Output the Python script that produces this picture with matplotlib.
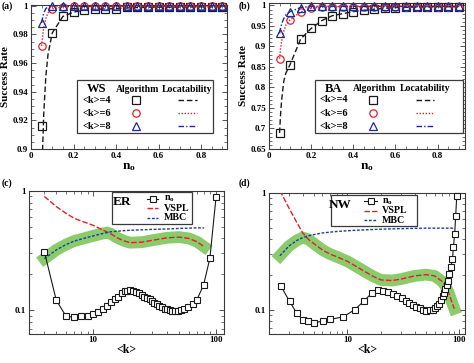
import numpy as np
import matplotlib
matplotlib.use('Agg')
import matplotlib.pyplot as plt
from matplotlib.lines import Line2D
from matplotlib.patches import Rectangle
from matplotlib.ticker import MultipleLocator, FixedLocator, FuncFormatter, NullFormatter

plt.rcParams['font.family'] = ['Liberation Serif', 'DejaVu Serif']
plt.rcParams['font.weight'] = 'bold'
plt.rcParams['mathtext.fontset'] = 'custom'
plt.rcParams['mathtext.bf'] = 'Liberation Serif:bold'
plt.rcParams['mathtext.rm'] = 'Liberation Serif:bold'
plt.rcParams['mathtext.it'] = 'Liberation Serif:bold'

# ---------------- data: panels (a) and (b) ----------------
n_o = [0.05, 0.10, 0.15, 0.20, 0.25, 0.30, 0.35, 0.40, 0.45, 0.50,
       0.55, 0.60, 0.65, 0.70, 0.75, 0.80, 0.85, 0.90]

ws_alg_k4 = [0.916, 0.981, 0.9925, 0.9955, 0.997, 0.9975, 0.9978, 0.998, 0.9988, 0.9988,
             0.9988, 0.999, 0.999, 0.999, 0.9992, 0.9992, 0.9992, 0.9992]
ws_alg_k6 = [0.972, 0.9977, 0.9993, 0.9995, 0.9995, 0.9995, 0.9995, 0.9995, 0.9996, 0.9996,
             0.9996, 0.9996, 0.9996, 0.9996, 0.9996, 0.9996, 0.9996, 0.9996]
ws_alg_k8 = [0.988, 1.0, 0.9998, 0.9998, 0.9998, 0.9998, 0.9998, 0.9998, 0.9998, 0.9998,
             0.9998, 0.9998, 0.9998, 0.9998, 0.9998, 0.9998, 0.9998, 0.9998]

loc_x = [0.05, 0.055, 0.06, 0.07, 0.08, 0.10, 0.15, 0.20, 0.25, 0.30, 0.40, 0.50, 0.60, 0.70, 0.80, 0.90]
ws_loc_k4 = [0.87, 0.902, 0.925, 0.951, 0.966, 0.981, 0.9925, 0.9955, 0.997, 0.9975, 0.998, 0.9988,
             0.999, 0.999, 0.9992, 0.9992]
ws_loc_k6 = [0.972, 0.979, 0.985, 0.991, 0.995, 0.9977, 0.9993, 0.9995, 0.9995, 0.9995, 0.9995,
             0.9996, 0.9996, 0.9996, 0.9996, 0.9996]
ws_loc_k8 = [0.988, 0.992, 0.995, 0.998, 0.9992, 1.0, 0.9998, 0.9998, 0.9998, 0.9998, 0.9998,
             0.9998, 0.9998, 0.9998, 0.9998, 0.9998]

ba_alg_k4 = [0.689, 0.856, 0.918, 0.944, 0.963, 0.975, 0.980, 0.985, 0.988, 0.991,
             0.993, 0.995, 0.996, 0.996, 0.997, 0.997, 0.997, 0.997]
ba_alg_k6 = [0.870, 0.965, 0.984, 0.993, 0.996, 0.997, 0.997, 0.997, 0.997, 0.997,
             0.997, 0.997, 0.997, 0.997, 0.997, 0.997, 0.997, 0.997]
ba_alg_k8 = [0.932, 0.985, 0.995, 0.9975, 0.998, 0.998, 0.998, 0.998, 0.998, 0.998,
             0.998, 0.998, 0.998, 0.998, 0.998, 0.998, 0.998, 0.998]

ba_loc_k4 = [0.689, 0.735, 0.77, 0.815, 0.835, 0.856, 0.918, 0.944, 0.963, 0.975, 0.985, 0.991,
             0.995, 0.996, 0.997, 0.997]
ba_loc_k6 = [0.870, 0.895, 0.913, 0.937, 0.952, 0.965, 0.984, 0.993, 0.996, 0.997, 0.997,
             0.997, 0.997, 0.997, 0.997, 0.997]
ba_loc_k8 = [0.932, 0.945, 0.955, 0.968, 0.977, 0.985, 0.995, 0.9975, 0.998, 0.998, 0.998,
             0.998, 0.998, 0.998, 0.998, 0.998]

k_labels = ['<k>=4', '<k>=6', '<k>=8']

# ---------------- data: panel (c) ER ----------------
er_k = [4, 5, 6, 7, 8, 9, 10, 11, 12, 13,
        14, 15, 16, 17, 18, 19, 20, 21, 22.5, 23.5,
        25, 26, 27.5, 29, 30, 31.5, 33, 34.5, 36.5, 38.5,
        40, 42, 44, 46.5, 49, 52, 55, 59.5, 64.5, 69.5,
        79, 89, 100]
er_no = [0.31, 0.121, 0.089, 0.087, 0.0885, 0.0895, 0.0925, 0.097, 0.1025, 0.109,
         0.116, 0.123, 0.130, 0.138, 0.144, 0.146, 0.147, 0.145, 0.1425, 0.139,
         0.134, 0.130, 0.127, 0.123, 0.119, 0.115, 0.112, 0.109, 0.106, 0.103,
         0.102, 0.100, 0.099, 0.099, 0.099, 0.100, 0.103, 0.106, 0.112, 0.121,
         0.162, 0.272, 0.895]
er_curve_k = [4, 5, 6, 7, 8, 10, 12, 13, 14, 16, 18, 20, 25, 30, 40, 50, 60, 70, 80]
er_vspl = [0.90, 0.74, 0.65, 0.59, 0.56, 0.515, 0.47, 0.452, 0.435, 0.40, 0.38, 0.368,
           0.372, 0.385, 0.405, 0.41, 0.40, 0.375, 0.34]
er_mbc = [0.27, 0.32, 0.355, 0.38, 0.395, 0.42, 0.44, 0.448, 0.455, 0.46, 0.465, 0.468,
          0.472, 0.476, 0.48, 0.485, 0.488, 0.49, 0.49]

# ---------------- data: panel (d) NW ----------------
nw_k = [2.54, 3.05, 3.52, 4.02, 4.49, 5.05, 6.02, 7.0, 9.2, 11.6,
        14.1, 16.5, 18.6, 21.0, 23.2, 25.6, 27.9, 30.5, 33.2, 35.8,
        38.6, 41.3, 44.2, 47.3, 50.7, 54.3, 57.5, 60.1, 63.2, 65.8,
        68.6, 70.9, 72.9, 74.9, 76.9, 79, 81.3, 83.5, 86.6, 88.2,
        90.6, 92.5, 94.5]
nw_no = [0.161, 0.118, 0.094, 0.0816, 0.0794, 0.0774, 0.080, 0.0826, 0.087, 0.100,
         0.119, 0.139, 0.148, 0.146, 0.142, 0.136, 0.131, 0.125, 0.119, 0.114,
         0.1097, 0.1054, 0.1026, 0.099, 0.098, 0.0986, 0.100, 0.104, 0.108, 0.113,
         0.121, 0.130, 0.139, 0.150, 0.164, 0.178, 0.202, 0.232, 0.272, 0.342,
         0.448, 0.64, 0.935]
nw_curve_k = [2.5, 3, 3.5, 4, 4.5, 5, 6, 7, 8, 10, 12, 14, 17, 20, 25, 30, 40, 50, 60, 70, 75, 80, 85, 90]
nw_vspl = [1.05, 0.75, 0.57, 0.455, 0.40, 0.37, 0.325, 0.30, 0.285, 0.26, 0.235, 0.215, 0.193,
           0.18, 0.178, 0.183, 0.195, 0.20, 0.195, 0.175, 0.16, 0.14, 0.118, 0.102]
nw_mbc = [0.29, 0.35, 0.39, 0.415, 0.43, 0.44, 0.455, 0.462, 0.468, 0.475, 0.48, 0.483, 0.487,
          0.49, 0.493, 0.495, 0.498, 0.5, 0.5, 0.5, 0.5, 0.5, 0.5, 0.5]

# ---------------- style ----------------
BLACK = '#1a1a1a'
RED = '#e0202a'
NAVY = '#1f2a8c'
BLUE = '#1d3c9c'
GREEN = '#8acb6c'
FRAME = '#3a3a3a'
TICK_FS = 6.5

fig = plt.figure(figsize=(4.74, 3.63), dpi=100)
W, H = 474.0, 363.0


def add_ax(x0, y0, x1, y1):
    return fig.add_axes([x0 / W, 1 - y1 / H, (x1 - x0) / W, (y1 - y0) / H])


def style_ax(ax):
    for s in ax.spines.values():
        s.set_color(FRAME)
        s.set_linewidth(0.8)
    ax.tick_params(which='both', direction='in', top=True, right=True,
                   colors=FRAME, labelcolor='black', labelsize=TICK_FS, pad=2)
    ax.tick_params(which='major', length=3.5, width=0.6)
    ax.tick_params(which='minor', length=2, width=0.5)
    for lab in ax.get_xticklabels() + ax.get_yticklabels():
        lab.set_fontweight('bold')


gfmt = FuncFormatter(lambda v, p: ('%g' % round(v, 4)))

axA = add_ax(31, 5, 227, 149)
axB = add_ax(269, 3, 465, 149)
axC = add_ax(29, 191, 224, 334)
axD = add_ax(269, 193, 465, 334)

styles = [
    dict(color=BLACK, ls=(0, (4, 2)), marker='s'),
    dict(color=RED, ls=(0, (1, 1.2)), marker='o'),
    dict(color=NAVY, ls=(0, (4, 1.5, 1, 1.5)), marker='^'),
]


def success_panel(ax, algs, locs, title, ylim, ymaj, ymin, table_box, xmax):
    for alg, loc, st in zip(algs, locs, styles):
        ax.plot(loc_x, loc, color=st['color'], ls=st['ls'], lw=1.0, zorder=2)
    for alg, loc, st in zip(algs, locs, styles):
        ax.plot(n_o, alg, ls='none', marker=st['marker'], ms=5.3, mfc='none',
                mec=st['color'], mew=0.9, zorder=3, clip_on=False)
    ax.set_xlim(0, xmax)
    ax.set_ylim(*ylim)
    ax.xaxis.set_major_locator(MultipleLocator(0.2))
    ax.xaxis.set_minor_locator(MultipleLocator(0.05))
    ax.yaxis.set_major_locator(MultipleLocator(ymaj))
    ax.yaxis.set_minor_locator(MultipleLocator(ymin))
    ax.xaxis.set_major_formatter(gfmt)
    ax.yaxis.set_major_formatter(gfmt)
    ax.set_xlabel(r'$\mathbf{n_o}$', fontsize=9.5, labelpad=1)
    ax.set_ylabel('Success Rate', fontsize=8, fontweight='bold', labelpad=2)
    style_ax(ax)
    # table-like legend
    x0, x1, y0, y1, cx_lab, cx_alg, cx_loc, lx0, lx1 = table_box
    ax.add_patch(Rectangle((x0, y0), x1 - x0, y1 - y0, transform=ax.transAxes,
                           fill=True, fc='white', ec=FRAME, lw=0.9, zorder=5))
    ty = y1 - 0.065
    ax.text(cx_lab, ty, title, transform=ax.transAxes, ha='center', va='center',
            fontsize=9, fontweight='bold', zorder=6)
    ax.text(cx_alg, ty, 'Algorithm', transform=ax.transAxes, ha='center', va='center',
            fontsize=7, fontweight='bold', zorder=6)
    ax.text(cx_loc, ty, 'Locatability', transform=ax.transAxes, ha='center', va='center',
            fontsize=7, fontweight='bold', zorder=6)
    rows = [y1 - 0.14, y1 - 0.232, y1 - 0.32]
    for ry, lab, st in zip(rows, k_labels, styles):
        ax.text(cx_lab, ry, lab, transform=ax.transAxes, ha='center', va='center',
                fontsize=7.5, fontweight='bold', zorder=6)
        ax.add_line(Line2D([cx_alg - 0.01], [ry], transform=ax.transAxes, ls='none',
                           marker=st['marker'], ms=5.3, mfc='none', mec=st['color'],
                           mew=0.9, zorder=6))
        ax.add_line(Line2D([lx0, lx1], [ry, ry], transform=ax.transAxes, color=st['color'],
                           ls=st['ls'], lw=1.0, zorder=6))


success_panel(axA, [ws_alg_k4, ws_alg_k6, ws_alg_k8], [ws_loc_k4, ws_loc_k6, ws_loc_k8],
              'WS', (0.9, 1.0005), 0.02, 0.005,
              (0.233, 0.929, 0.113, 0.479, 0.335, 0.546, 0.798, 0.752, 0.845), 0.922)
success_panel(axB, [ba_alg_k4, ba_alg_k6, ba_alg_k8], [ba_loc_k4, ba_loc_k6, ba_loc_k8],
              'BA', (0.65, 1.006), 0.05, 0.01,
              (0.236, 0.99, 0.113, 0.476, 0.33, 0.54, 0.796, 0.749, 0.842), 0.93)


def log_panel(ax, k, no, ck, vspl, mbc, title, xlim, ylim, box):
    band = np.minimum(np.array(vspl), np.array(mbc))
    ax.plot(ck, band, color=GREEN, lw=8.5, solid_capstyle='projecting',
            solid_joinstyle='round', zorder=1)
    ax.plot(ck, vspl, color=RED, ls=(0, (4, 1.5)), lw=1.0, zorder=3)
    ax.plot(ck, mbc, color=BLUE, ls=(0, (2, 1.2)), lw=1.0, zorder=3)
    ax.plot(k, no, color=BLACK, lw=0.8, marker='s', ms=4.3, mfc='white', mec=BLACK,
            mew=0.8, zorder=4, clip_on=False)
    ax.set_xscale('log')
    ax.set_yscale('log')
    ax.set_xlim(*xlim)
    ax.set_ylim(*ylim)
    ax.xaxis.set_major_locator(FixedLocator([10, 100]))
    ax.xaxis.set_minor_locator(FixedLocator([2, 3, 4, 5, 6, 7, 8, 9, 20, 30, 40, 50, 60, 70, 80, 90]))
    ax.yaxis.set_major_locator(FixedLocator([0.1, 1]))
    ax.yaxis.set_minor_locator(FixedLocator([0.07, 0.08, 0.09, 0.2, 0.3, 0.4, 0.5, 0.6, 0.7, 0.8, 0.9]))
    ax.xaxis.set_major_formatter(gfmt)
    ax.yaxis.set_major_formatter(gfmt)
    ax.xaxis.set_minor_formatter(NullFormatter())
    ax.yaxis.set_minor_formatter(NullFormatter())
    ax.set_xlabel('<k>', fontsize=8.5, fontweight='bold', labelpad=0)
    style_ax(ax)
    ax.tick_params(axis='x', which='major', pad=1.5)
    x0, x1, y0, y1, tx, hx0, hx1, txt = box
    ax.add_patch(Rectangle((x0, y0), x1 - x0, y1 - y0, transform=ax.transAxes,
                           fill=True, fc='white', ec=FRAME, lw=0.9, zorder=5))
    ax.text(tx, y1 - 0.07, title, transform=ax.transAxes, ha='center', va='center',
            fontsize=9.5, fontweight='bold', zorder=6)
    hgt = y1 - y0
    rows = [y1 - 0.21 * hgt, y1 - 0.51 * hgt, y1 - 0.81 * hgt]
    entries = [(r'$\mathbf{n_o}$', dict(color=BLACK, ls='-', lw=0.8, marker='s', ms=4.3,
                                        mfc='white', mec=BLACK, mew=0.8, markevery=[1])),
               ('VSPL', dict(color=RED, ls=(0, (4, 1.5)), lw=1.0)),
               ('MBC', dict(color=BLUE, ls=(0, (2, 1.2)), lw=1.0))]
    for ry, (lab, st) in zip(rows, entries):
        ax.add_line(Line2D([hx0, (hx0 + hx1) / 2, hx1], [ry, ry, ry], transform=ax.transAxes,
                           zorder=6, **st))
        ax.text(txt, ry, lab, transform=ax.transAxes, ha='left', va='center',
                fontsize=7.2, fontweight='bold', zorder=6)


log_panel(axC, er_k, er_no, er_curve_k, er_vspl, er_mbc, 'ER', (3.0, 116), (0.063, 1.0),
          (0.427, 0.834, 0.770, 0.991, 0.475, 0.604, 0.663, 0.69))
log_panel(axD, nw_k, nw_no, nw_curve_k, nw_vspl, nw_mbc, 'NW', (2.0, 112), (0.062, 1.0),
          (0.318, 0.756, 0.765, 0.988, 0.364, 0.484, 0.552, 0.575))

for (px, py, lab) in [(2, 1, '(a)'), (239, 1, '(b)'), (2, 178, '(c)'), (239, 178, '(d)')]:
    fig.text(px / W, 1 - py / H, lab, ha='left', va='top', fontsize=7, fontweight='bold')

fig.savefig('out.png', dpi=100)
